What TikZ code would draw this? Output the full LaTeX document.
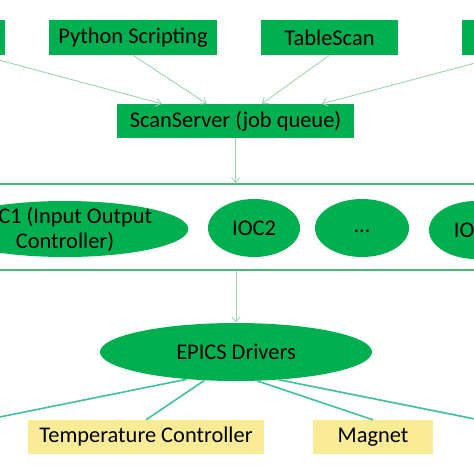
\documentclass[tikz,border=0pt]{standalone}
\usepackage{fontspec}
\setmainfont{Carlito}
\usepackage{xcolor}
\usepackage{tikz}
\usetikzlibrary{calc, shapes.geometric, arrows.meta, positioning}

\definecolor{boxgreen}{RGB}{0,176,80}
\definecolor{devyellow}{RGB}{250,236,150}
\definecolor{paleline}{RGB}{160,212,180}
\definecolor{frameline}{RGB}{70,190,120}
\definecolor{tealline}{RGB}{64,192,160}

\begin{document}
\begin{tikzpicture}[
    x=1bp, y=-1bp,
    >={Straight Barb[length=5bp, width=8bp]},
    feed_arrow/.style={draw=paleline, line width=0.9bp, ->},
    drv_line/.style={draw=tealline, line width=1.6bp},
    % Top tier
    tool_node/.style={rectangle, fill=boxgreen, minimum height=35bp, inner sep=0pt, font=\fontsize{22.5}{25}\selectfont},
    % IOC tier
    frame_node/.style={rectangle, draw=frameline, line width=1.5bp, minimum width=540bp, minimum height=86bp},
    ioc_node/.style={ellipse, fill=boxgreen, minimum width=94bp, minimum height=58bp, inner xsep=0pt, inner ysep=-12bp, align=center, font=\fontsize{22.5}{25}\selectfont},
    % Device tier
    dev_node/.style={rectangle, fill=devyellow, minimum height=34bp, inner sep=0pt, font=\fontsize{22.5}{25}\selectfont}
]
    \useasboundingbox (0,0) rectangle (474,474);
    \clip (0,0) rectangle (474,474);

    % =========================================================================
    % CLIENTS AND SCAN SERVER
    % =========================================================================
    \node [tool_node, minimum width=48bp] (tool_l) at (-19, 37.5) {};
    \node [tool_node, minimum width=168bp] (py) at (133, 37.5) {Python Scripting};
    \node [tool_node, minimum width=137bp] (ts) at (329.5, 37.5) {TableScan};
    \node [tool_node, minimum width=86bp] (tool_r) at (505, 37.5) {};

    \node [tool_node, minimum width=237bp, minimum height=34bp] (scan) at (235.5, 121) {ScanServer (job queue)};

    \draw [feed_arrow] (tool_l.south) -- ($(scan.north west)+(45,0)$);
    \draw [feed_arrow] (py.south) -- ($(scan.north west)+(90,0)$);
    \draw [feed_arrow] (ts.south) -- ($(scan.north west)+(145,0)$);
    \draw [feed_arrow] (tool_r.south) -- ($(scan.north west)+(205,0)$);

    % =========================================================================
    % IOC LAYER
    % =========================================================================
    \node [frame_node] (iocbox) at (236, 227) {};

    \node [ioc_node, minimum width=238bp, minimum height=56bp] (ioc1) at (65, 229) {IOC1 (Input Output\\Controller)};
    \node [ioc_node, minimum width=92bp] (ioc2) at (254, 228) {IOC2};
    \node [ioc_node, text height=15bp, text depth=5bp] (iocdots) at (362, 228) {...};
    \node [ioc_node] (iocn) at (476, 230) {IOCn};

    \draw [feed_arrow] (scan.south) -- (scan.south |- iocbox.north);

    % =========================================================================
    % DRIVERS AND DEVICES
    % =========================================================================
    \node [ioc_node, minimum width=272bp] (epics) at (236, 352) {EPICS Drivers};

    \draw [feed_arrow] (epics.north |- iocbox.south) -- (epics.north);

    \node [dev_node, minimum width=236bp] (temp) at (146, 437) {Temperature Controller};
    \node [dev_node, minimum width=120bp] (mag) at (373, 437) {Magnet};
    \coordinate (dev_l) at (-30, 423);
    \coordinate (dev_r) at (500, 424);

    \draw [drv_line] (epics.209) -- (dev_l);
    \draw [drv_line] (epics.222) -- (temp.north);
    \draw [drv_line] (epics.306) -- (mag.north);
    \draw [drv_line] (epics.327) -- (dev_r);
\end{tikzpicture}
\end{document}
